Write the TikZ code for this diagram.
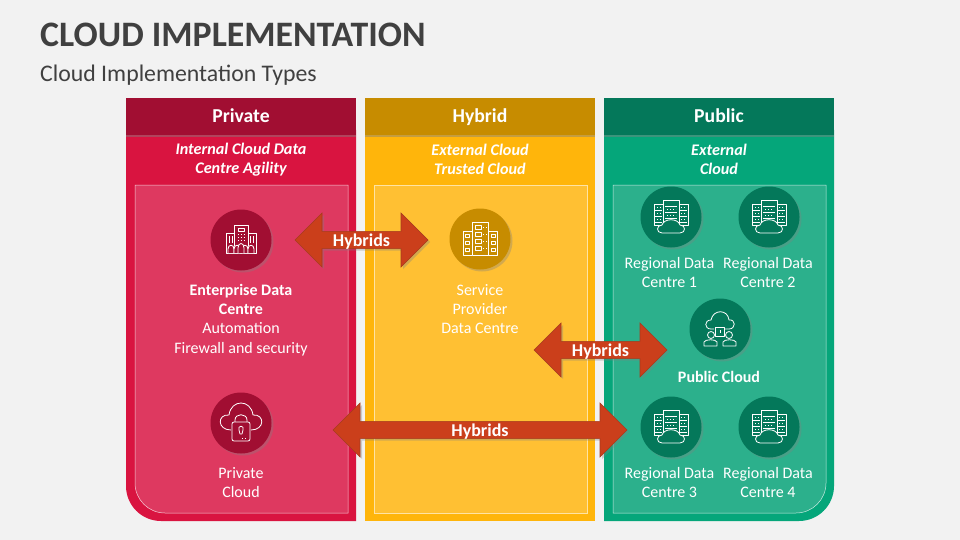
\documentclass[tikz,border=0pt]{standalone}
\usepackage{fontspec}
\setmainfont{Carlito}
\usetikzlibrary{shapes.arrows, shadows, calc}
\definecolor{PageGrey}{RGB}{242, 242, 242}
\definecolor{TitleDark}{RGB}{64, 64, 64}
\definecolor{PrivateBase}{RGB}{217, 20, 64}
\definecolor{PrivateDark}{RGB}{161, 14, 50}
\definecolor{PrivateSoft}{RGB}{222, 57, 96}
\definecolor{HybridBase}{RGB}{255, 181, 11}
\definecolor{HybridDark}{RGB}{199, 140, 0}
\definecolor{HybridSoft}{RGB}{255, 192, 51}
\definecolor{PublicBase}{RGB}{5, 166, 122}
\definecolor{PublicDark}{RGB}{4, 120, 90}
\definecolor{PublicSoft}{RGB}{44, 176, 140}
\definecolor{ArrowRust}{RGB}{203, 63, 27}
\definecolor{ArrowEdge}{RGB}{165, 60, 30}
\tikzset{
  headbox/.style={fill=#1, minimum width=230pt, minimum height=37pt, inner sep=0pt, text=white, text height=14pt, text depth=2pt,
    font=\fontsize{19.7}{22}\selectfont\bfseries, drop shadow={shadow xshift=0pt, shadow yshift=-2.5pt, opacity=.45}},
  tagline/.style={text=white, align=center, inner sep=0pt, font=\fontsize{16.2}{19.2}\selectfont\bfseries\itshape},
  caption/.style={text=white, align=center, inner sep=0pt, font=\fontsize{16}{19.3}\selectfont},
  iconball/.style={circle, fill=#1, minimum size=61pt, inner sep=0pt, drop shadow={shadow xshift=2pt, shadow yshift=-2pt, opacity=.35}},
  hybridarrow/.style={double arrow, double arrow tip angle=90, double arrow head extend=13.5pt, minimum width=54pt,
    minimum height=#1, inner sep=0pt, fill=ArrowRust, draw=ArrowEdge, line width=.6pt, text=white, text height=12pt, text depth=0pt,
    font=\fontsize{18}{20}\selectfont\bfseries, drop shadow={shadow xshift=2pt, shadow yshift=-2pt, opacity=.35}},
  iconline/.style={draw=white, line width=.8pt, line join=round},
  racksicon/.pic={
    \foreach \s in {-1,1} {
      \draw[iconline] (\s*8,-13) -- (\s*17,-13) -- (\s*17,8) -- (\s*8,8);
      \foreach \y in {-7,-1,5} \draw[iconline] (\s*9,\y) -- (\s*16,\y);
      \foreach \y in {-10,-4,2} \draw[iconline, line width=1pt, dotted] (\s*10,\y) -- (\s*15,\y);
    }
    \draw[iconline] (-8,-17) rectangle (8,8);
    \foreach \y in {-11,-5,1} {
      \draw[iconline] (-6,\y) -- (6,\y);
      \draw[iconline, line width=1pt, dotted] (-4,\y+3) -- (5,\y+3);
    }
    \draw[iconline, fill=#1] (-9,16) .. controls (-15,16) and (-15,8) .. (-9,8) .. controls (-7,1) and (7,1) .. (9,8) .. controls (15,8) and (15,16) .. (9,16) -- cycle;
  },
  towericon/.pic={
    \draw[iconline] (-8,-17) rectangle (8,16);
    \foreach \s in {-1,1} {
      \draw[iconline] (\s*8,-8) -- (\s*17,-8) -- (\s*17,16) -- (\s*8,16);
      \foreach \y in {-5,2,9} \draw[iconline] (\s*11,\y) rectangle (\s*15,\y+3);
    }
    \foreach \y in {-14,-7,0,7} {
      \draw[iconline] (-5,\y) rectangle (1,\y+4);
      \draw[iconline, line width=1pt, dotted] (3,\y+2) -- (7,\y+2);
    }
  },
  officeicon/.pic={
    \draw[iconline] (-7,6) -- (-7,-15) -- (7,-15) -- (7,6);
    \draw[iconline] (-3,-12) rectangle (3,-9);
    \foreach \y in {-6,-3,0} \draw[iconline, dotted] (-3,\y) -- (4,\y);
    \foreach \s in {-1,1} {
      \draw[iconline] (\s*7,-7) -- (\s*15,-7) -- (\s*15,7);
      \foreach \x in {9,12} \draw[iconline] (\s*\x,-4) -- (\s*\x,3);
    }
    \draw[iconline] (-15,7) -- (-15,13) -- (15,13) -- (15,7);
    \foreach \x in {-10,-4,4,10} \draw[iconline, fill=#1] (\x-3,13) -- (\x-3,9) .. controls (\x-3,4) and (\x+3,4) .. (\x+3,9) -- (\x+3,13);
    \draw[iconline, fill=#1] (-3,13) -- (-3,8) .. controls (-3,2) and (3,2) .. (3,8) -- (3,13);
  },
  safecloudicon/.pic={
    \draw[iconline] (-10,7) .. controls (-24,7) and (-24,-9) .. (-12,-8) .. controls (-10,-24) and (10,-24) .. (12,-8) .. controls (24,-9) and (24,7) .. (10,7);
    \draw[iconline] (-6,-1) -- (-6,-3) .. controls (-6,-10) and (6,-10) .. (6,-3) -- (6,-1);
    \draw[iconline, fill=#1, rounded corners=2pt] (-9,-1) rectangle (9,18);
    \draw[iconline] (-2,7) .. controls (-4,2) and (4,2) .. (2,7) -- (1,11) -- (-1,11) -- cycle;
    \draw[iconline, dotted] (1,15) -- (6,15);
  },
  teamcloudicon/.pic={
    \draw[iconline] (-6,0) -- (-9,0) .. controls (-16,0) and (-16,-9) .. (-9,-9) .. controls (-7,-20) and (8,-20) .. (9,-9) .. controls (16,-10) and (16,0) .. (9,0) -- (5,0);
    \draw[iconline, fill=#1] (-5,-2) rectangle (4,7);
    \draw[iconline] (0,1) -- (0,4);
    \foreach \s in {-1,1} {
      \draw[iconline, fill=#1] (\s*9,6) circle (3.5pt);
      \draw[iconline] (\s*3,17) -- (\s*3,13) .. controls (\s*4,10) and (\s*15,10) .. (\s*16,13) -- (\s*16,17) -- cycle;
    }
  },
}
\begin{document}
\begin{tikzpicture}[x=1pt, y=-1pt]
  \useasboundingbox (0,0) rectangle (960,540);
  \fill[PageGrey] (0,0) rectangle (960,540);
  \node[anchor=west, inner sep=0pt, text=TitleDark, font=\fontsize{35.8}{40}\selectfont\bfseries] (slidetitle) at (40,35) {CLOUD IMPLEMENTATION};
  \node[anchor=west, inner sep=0pt, text=TitleDark, font=\fontsize{23.8}{26}\selectfont] (slidesub) at (40,75) {Cloud Implementation Types};

  \fill[PrivateBase] (356,130) -- (356,521) [rounded corners=35pt] -- (126,521) [sharp corners] -- (126,130) -- cycle;
  \fill[HybridBase] (365,130) rectangle (595,521);
  \fill[PublicBase] (604,130) -- (604,521) [rounded corners=35pt] -- (834,521) [sharp corners] -- (834,130) -- cycle;
  \filldraw[fill=PrivateSoft, draw=white!75!PrivateSoft, line width=.5pt] (348,185) -- (348,513) [rounded corners=30pt] -- (135,513) [sharp corners] -- (135,185) -- cycle;
  \filldraw[fill=HybridSoft, draw=white!55!HybridSoft, line width=.5pt] (374,185) rectangle (587,513);
  \filldraw[fill=PublicSoft, draw=white!75!PublicSoft, line width=.5pt] (613,185) -- (613,513) [rounded corners=30pt] -- (826,513) [sharp corners] -- (826,185) -- cycle;

  \node[headbox=PrivateDark] (privatehead) at (241,116.5) {Private};
  \node[headbox=HybridDark] (hybridhead) at (480,116.5) {Hybrid};
  \node[headbox=PublicDark] (publichead) at (719,116.5) {Public};
  \node[tagline] (privatetag) at (241,159.5) {Internal Cloud Data\\Centre Agility};
  \node[tagline] (hybridtag) at (480,159.5) {External Cloud\\Trusted Cloud};
  \node[tagline] (publictag) at (719,159.5) {External\\Cloud};

  \node[iconball=PrivateDark] (enterprise) at (241,240) {};
  \node[iconball=PrivateDark] (privatecloud) at (241,423) {};
  \node[iconball=HybridDark] (provider) at (480,239) {};
  \foreach \name/\px/\py in {regionone/671/217, regiontwo/769/217, regionthree/671/427, regionfour/769/427} {
    \node[iconball=PublicDark] (\name) at (\px,\py) {};
    \pic at (\name) {racksicon=PublicDark};
  }
  \node[iconball=PublicDark] (publiccloud) at (720,329) {};
  \pic at (enterprise) {officeicon=PrivateDark};
  \pic at (privatecloud) {safecloudicon=PrivateDark};
  \pic at (provider) {towericon=HybridDark};
  \pic at (publiccloud) {teamcloudicon=PublicDark};

  \node[caption] (enterprisetext) at (241,320) {\textbf{Enterprise Data}\\\textbf{Centre}\\Automation\\Firewall and security};
  \node[caption] (privatetext) at (241,482.5) {Private\\Cloud};
  \node[caption] (providertext) at (480,309) {Service\\Provider\\Data Centre};
  \node[caption] at (669.5,272.5) (regiononetext) {Regional Data\\Centre 1};
  \node[caption] at (768,272.5) (regiontwotext) {Regional Data\\Centre 2};
  \node[caption, font=\fontsize{16}{19.3}\selectfont\bfseries] (publictext) at (719,377) {Public Cloud};
  \node[caption] at (669.5,482.5) (regionthreetext) {Regional Data\\Centre 3};
  \node[caption] at (768,482.5) (regionfourtext) {Regional Data\\Centre 4};

  \node[hybridarrow=133pt] (hybridsa) at (361.5,240) {Hybrids};
  \node[hybridarrow=133pt] (hybridsb) at (600.5,350) {Hybrids};
  \node[hybridarrow=294pt] (hybridsc) at (480,430) {Hybrids};
\end{tikzpicture}
\end{document}
